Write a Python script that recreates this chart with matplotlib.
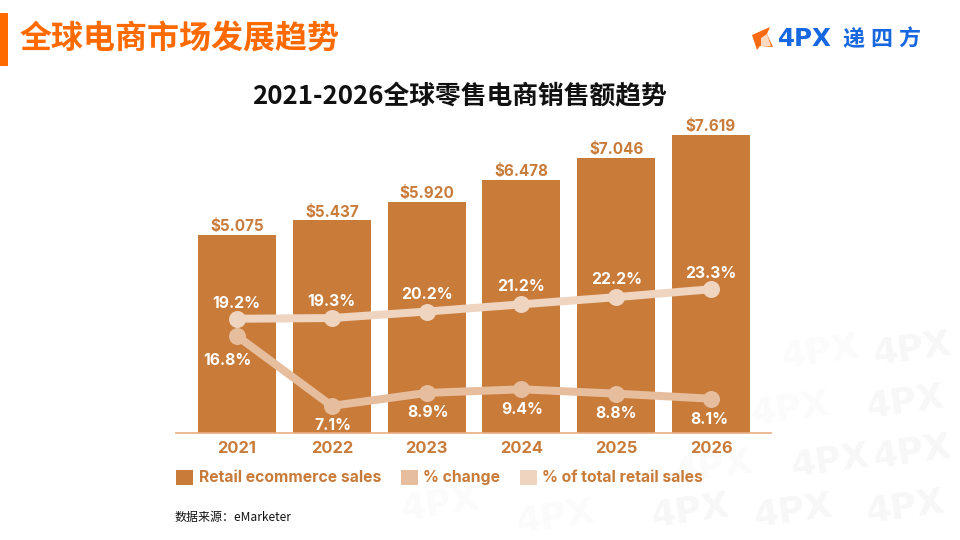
import matplotlib
matplotlib.use("Agg")
import matplotlib.pyplot as plt
from matplotlib.patches import Patch, Polygon, Rectangle
import numpy as np

# ---------- data ----------
years = ["2021", "2022", "2023", "2024", "2025", "2026"]
sales = [5.075, 5.437, 5.920, 6.478, 7.046, 7.619]
pct_change = [16.8, 7.1, 8.9, 9.4, 8.8, 8.1]
pct_total = [19.2, 19.3, 20.2, 21.2, 22.2, 23.3]
legend_labels = ["Retail ecommerce sales", "% change", "% of total retail sales"]
page_title = "全球电商市场发展趋势"
chart_title = "2021-2026全球零售电商销售额趋势"
source = "数据来源：eMarketer"

# ---------- style ----------
W, H = 960, 540
BAR = "#C97B3A"
CHG = "#E6BD9D"
TOT = "#EFD4BF"
ORANGE = "#FF6A00"
BLUE = "#1667E0"
WM = "#F7F7F7"
CJK = ["Noto Sans CJK SC", "DejaVu Sans"]
LAT = "Inter"
px = 72 / 100  # points per pixel

plt.rcParams["font.family"] = CJK
fig = plt.figure(figsize=(W / 100, H / 100), dpi=100, facecolor="white")

# decoration layer in pixel coordinates
bg = fig.add_axes([0, 0, 1, 1], zorder=0)
bg.set_xlim(0, W)
bg.set_ylim(H, 0)
bg.axis("off")

for x, y in [(820, 353), (912, 350), (790, 410), (905, 403), (713, 468), (830, 462),
             (912, 453), (690, 512), (793, 512), (905, 508), (555, 518), (440, 505)]:
    faint = (x, y) in [(713, 468), (790, 410), (820, 353), (440, 505), (555, 518)]
    bg.text(x, y, "4PX", color="#FBFBFB" if faint else WM, fontsize=36 * px,
            family="DejaVu Sans", weight="bold", rotation=8, ha="center", va="center")

bg.add_patch(Rectangle((0, 13), 7.5, 53, color=ORANGE, lw=0))
bg.text(20, 40, page_title, color=ORANGE, fontsize=32 * px, weight="bold", va="center", ha="left")
bg.text(459, 97, chart_title, color="#111111", fontsize=25.8 * px, weight="bold", va="center", ha="center")
bg.text(175, 517, source, color="#111111", fontsize=12 * px, va="center", ha="left")

# logo
bg.add_patch(Polygon([(752, 35), (770, 27), (767, 34), (773, 47), (760, 46), (757, 50)],
                     color="#FA6A12", lw=0))
bg.add_patch(Polygon([(761, 38), (767, 34), (771, 46), (761, 46)], color="#FFD9BF", lw=0))
bg.text(778, 39, "4PX", color=BLUE, fontsize=24.5 * px, family="DejaVu Sans", weight="bold",
        va="center", ha="left")
for x, ch in zip((853, 881, 909), "递四方"):
    bg.text(x, 39, ch, color=BLUE, fontsize=22 * px, weight="bold", va="center", ha="center")

# main axes: x 176..771 px, y 100..433 px
L, R, T, B = 176, 771, 100, 433
ax = fig.add_axes([L / W, 1 - B / H, (R - L) / W, (B - T) / H], zorder=2)
ax.patch.set_alpha(0)
x = np.arange(len(years))
step = 94.8
ax.set_xlim((L - 237) / step, (R - 237) / step)
ax.set_ylim(0, (B - T) / 39.1)
ax.bar(x, sales, width=78 / step, color=BAR, zorder=2)
for xi, v in zip(x, sales):
    ax.annotate(f"${v:.3f}", (xi, v), xytext=(0, 0.5), textcoords="offset points", ha="center",
                va="bottom", color=BAR, fontsize=15.2 * px, weight="bold", family=LAT)

for s in ("top", "left", "right"):
    ax.spines[s].set_visible(False)
ax.spines["bottom"].set_color("#E9AE82")
ax.spines["bottom"].set_linewidth(1.2)
ax.set_yticks([])
ax.set_xticks(x, years)
ax.tick_params(axis="x", length=0, pad=6, labelcolor=BAR, labelsize=16.5 * px)
for t in ax.get_xticklabels():
    t.set_family(LAT)
    t.set_weight("bold")

# percent axes: same box, zero sits 24 px below the baseline, 7.2 px per point
ax2 = ax.twinx()
ax2.patch.set_alpha(0)
ax2.set_ylim(24 / 7.2, (B - T + 24) / 7.2)
ax2.axis("off")
ax2.plot(x, pct_total, color=TOT, lw=8 * px, marker="o", ms=17 * px, mew=0, zorder=3)
ax2.plot(x, pct_change, color=CHG, lw=8 * px, marker="o", ms=17 * px, mew=0, zorder=3)

total_off = [(-1, 15.5), (0, 17), (0, 17), (0, 18), (0, 18), (0, 16)]
change_off = [(-10, -24), (1, -20), (1, -20), (1, -20.5), (0, -20), (-2, -21)]
for xi, v, o in zip(x, pct_total, total_off):
    ax2.annotate(f"{v}%", (xi, v), xytext=(o[0] * px, o[1] * px), textcoords="offset points",
                 ha="center", va="center", color="white", fontsize=15.7 * px, weight="bold", family=LAT)
for xi, v, o in zip(x, pct_change, change_off):
    ax2.annotate(f"{v}%", (xi, v), xytext=(o[0] * px, o[1] * px), textcoords="offset points",
                 ha="center", va="center", color="white", fontsize=15.7 * px, weight="bold", family=LAT)

# legend
handles = [Patch(color=c, lw=0) for c in (BAR, CHG, TOT)]
leg = fig.legend(handles, legend_labels, loc="center left", bbox_to_anchor=(162 / W, 1 - 477.5 / H),
                 ncol=3, frameon=False, handlelength=1.1, handleheight=1.1, handletextpad=0.33,
                 columnspacing=1.25, prop={"family": LAT, "weight": "bold", "size": 15.7 * px},
                 labelcolor=BAR)

fig.savefig("out.png", dpi=100)
